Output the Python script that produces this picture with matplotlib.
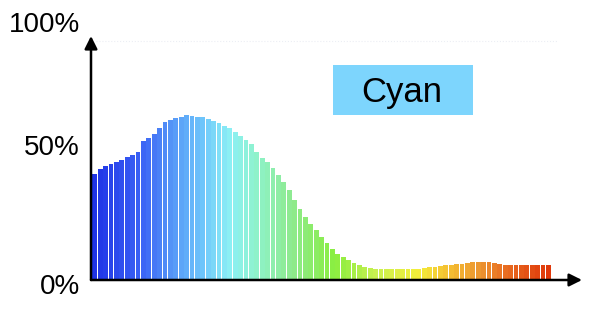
import matplotlib
matplotlib.use("Agg")
import matplotlib.pyplot as plt
from matplotlib.colors import LinearSegmentedColormap
from matplotlib.patches import Rectangle
import numpy as np

plt.rcParams['font.family'] = ['Liberation Sans', 'DejaVu Sans']

# reflectance of cyan, read bar by bar (percent)
reflectance = [44.4, 46.4, 47.7, 48.5, 49.4, 50.2, 51.5, 52.3, 53.4, 58.2,
               59.4, 61.1, 63.6, 66.1, 66.9, 67.8, 68.4, 69.0, 68.8, 68.4,
               68.0, 67.4, 66.5, 65.5, 64.6, 63.6, 61.9, 60.3, 58.6, 56.7,
               53.6, 51.0, 49.4, 46.9, 43.9, 41.0, 37.7, 33.5, 29.7, 26.4,
               23.4, 20.9, 18.0, 15.5, 13.0, 10.9, 9.6, 8.4, 7.1, 6.3,
               5.6, 5.2, 4.8, 4.6, 4.6, 4.6, 4.6, 4.6, 4.6, 4.6,
               4.6, 5.0, 5.4, 5.6, 5.9, 6.1, 6.3, 6.7, 6.9, 7.1,
               7.5, 7.5, 7.5, 7.5, 7.1, 6.7, 6.3, 6.3, 6.3, 6.3,
               6.3, 6.3, 6.3, 6.3, 6.3]
tick_vals = [0, 50, 100]
tick_text = ["0%", "50%", "100%"]
label = "Cyan"

# spectrum colours along the bars
spectrum = LinearSegmentedColormap.from_list("spec", [
    (0.00, "#1f33e6"), (0.10, "#3a62f5"), (0.18, "#5a9ff8"),
    (0.24, "#70c8fb"), (0.30, "#8cf0f4"), (0.36, "#8ef2c8"),
    (0.43, "#8eea90"), (0.53, "#8aee40"), (0.62, "#c8f050"),
    (0.71, "#f3ef3a"), (0.78, "#f5c132"), (0.85, "#ec9530"),
    (0.91, "#e86a20"), (1.00, "#e0380a")])

n = len(reflectance)
idx = np.arange(n)
colors = spectrum(idx / (n - 1))

W, H = 600, 317
fig = plt.figure(figsize=(6, 3.17), dpi=100)
ax = fig.add_axes([91 / W, (H - 280) / H, (582 - 91) / W, (280 - 36) / H])

ax.bar(idx, reflectance, width=0.9, color=colors, linewidth=0)
ax.set_xlim(-0.7, -0.7 + (582 - 91) / 5.4)
ax.set_ylim(0, 102.1)
ax.axhline(100, xmin=0.01, xmax=0.95, color="#eceef4", lw=0.8, ls=":")

for s in ax.spines.values():
    s.set_visible(False)
ax.set_xticks([])
ax.set_yticks([])

arrow = dict(arrowstyle="-|>", color="black", lw=1.8, mutation_scale=19,
             shrinkA=0, shrinkB=0)
ax.annotate("", xy=(0, 1), xytext=(0, 0), xycoords="axes fraction",
            arrowprops=arrow, annotation_clip=False)
ax.annotate("", xy=(1, 0), xytext=(0, 0), xycoords="axes fraction",
            arrowprops=arrow, annotation_clip=False)

# y labels sit a little off their values, as in the original
label_y = {0: 287, 50: 148, 100: 25}
for v, t in zip(tick_vals, tick_text):
    fig.text(80 / W, 1 - label_y[v] / H, t, ha="right", va="center",
             fontsize=20, color="black")

fig.patches.append(Rectangle((333 / W, 1 - 115 / H), 140 / W, 50 / H,
                             transform=fig.transFigure, facecolor="#7dd5fd",
                             edgecolor="none"))
fig.text(402 / W, 1 - 102 / H, label, ha="center", va="baseline",
         fontsize=25, color="black")

fig.savefig("out.png", dpi=100, facecolor="white")
